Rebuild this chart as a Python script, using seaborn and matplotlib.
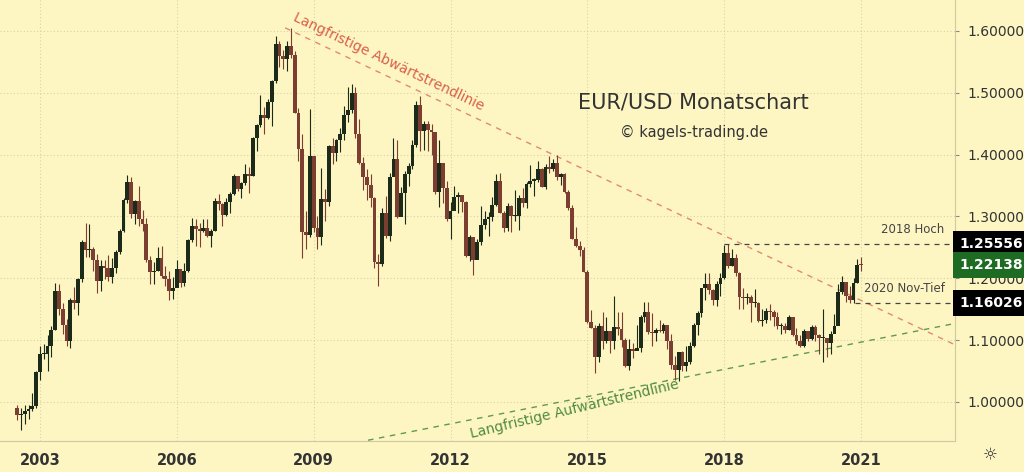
import numpy as np
import matplotlib
matplotlib.use("Agg")
import matplotlib.pyplot as plt
import seaborn as sns

# Monatskerzen EUR/USD, Jul 2002 bis Jan 2021
start_month = -6  # Monate relativ zu Jan 2003

closes = [
    0.978, 0.981, 0.986, 0.989, 0.993, 1.049,
    1.077, 1.078, 1.091, 1.117, 1.180, 1.150, 1.124, 1.099, 1.165, 1.160, 1.198, 1.259,
    1.246, 1.247, 1.230, 1.196, 1.220, 1.217, 1.202, 1.217, 1.242, 1.276, 1.327, 1.356,
    1.304, 1.325, 1.296, 1.287, 1.230, 1.210, 1.212, 1.233, 1.204, 1.198, 1.179, 1.184,
    1.215, 1.193, 1.212, 1.262, 1.285, 1.279, 1.277, 1.281, 1.268, 1.276, 1.325, 1.320,
    1.302, 1.323, 1.336, 1.365, 1.345, 1.354, 1.368, 1.366, 1.426, 1.448, 1.464, 1.459,
    1.485, 1.519, 1.579, 1.559, 1.554, 1.575, 1.561, 1.467, 1.409, 1.274, 1.270, 1.397,
    1.281, 1.267, 1.328, 1.323, 1.414, 1.403, 1.424, 1.434, 1.464, 1.472, 1.500, 1.433,
    1.386, 1.363, 1.351, 1.330, 1.227, 1.223, 1.305, 1.268, 1.363, 1.393, 1.299, 1.338,
    1.369, 1.381, 1.416, 1.480, 1.438, 1.450, 1.439, 1.437, 1.340, 1.386, 1.346, 1.296,
    1.308, 1.332, 1.334, 1.324, 1.236, 1.266, 1.230, 1.258, 1.286, 1.296, 1.299, 1.319,
    1.358, 1.306, 1.282, 1.317, 1.300, 1.301, 1.330, 1.322, 1.352, 1.358, 1.359, 1.376,
    1.348, 1.380, 1.377, 1.387, 1.363, 1.369, 1.339, 1.313, 1.263, 1.252, 1.245, 1.210,
    1.129, 1.120, 1.073, 1.122, 1.099, 1.114, 1.098, 1.121, 1.118, 1.100, 1.058, 1.086,
    1.083, 1.087, 1.138, 1.145, 1.113, 1.111, 1.117, 1.115, 1.124, 1.098, 1.059, 1.052,
    1.080, 1.058, 1.065, 1.090, 1.124, 1.143, 1.184, 1.191, 1.181, 1.165, 1.190, 1.201,
    1.241, 1.219, 1.232, 1.208, 1.169, 1.168, 1.169, 1.160, 1.160, 1.131, 1.132, 1.147,
    1.145, 1.137, 1.122, 1.122, 1.117, 1.137, 1.108, 1.099, 1.090, 1.115, 1.102, 1.121,
    1.109, 1.103, 1.103, 1.095, 1.110, 1.123, 1.178, 1.194, 1.172, 1.165, 1.193, 1.222,
    1.2214,
]

highs = [
    0.995, 0.990, 0.995, 0.995, 1.015, 1.050,
    1.090, 1.093, 1.108, 1.123, 1.193, 1.190, 1.160, 1.134, 1.168, 1.186, 1.200, 1.262,
    1.290, 1.287, 1.250, 1.240, 1.229, 1.229, 1.238, 1.233, 1.245, 1.280, 1.330, 1.367,
    1.363, 1.326, 1.349, 1.311, 1.297, 1.236, 1.226, 1.250, 1.252, 1.220, 1.211, 1.202,
    1.229, 1.215, 1.225, 1.263, 1.297, 1.296, 1.289, 1.295, 1.295, 1.280, 1.329, 1.337,
    1.322, 1.330, 1.340, 1.368, 1.361, 1.356, 1.384, 1.380, 1.428, 1.450, 1.497, 1.477,
    1.490, 1.520, 1.591, 1.584, 1.569, 1.584, 1.604, 1.567, 1.476, 1.433, 1.308, 1.474,
    1.398, 1.300, 1.378, 1.345, 1.415, 1.426, 1.425, 1.443, 1.478, 1.509, 1.514, 1.510,
    1.458, 1.396, 1.376, 1.369, 1.331, 1.240, 1.313, 1.333, 1.370, 1.426, 1.424, 1.347,
    1.374, 1.386, 1.424, 1.486, 1.494, 1.454, 1.455, 1.450, 1.437, 1.423, 1.364, 1.358,
    1.323, 1.349, 1.339, 1.332, 1.325, 1.270, 1.240, 1.264, 1.317, 1.309, 1.307, 1.331,
    1.368, 1.371, 1.309, 1.321, 1.318, 1.342, 1.335, 1.346, 1.356, 1.383, 1.362, 1.389,
    1.379, 1.385, 1.397, 1.393, 1.399, 1.370, 1.370, 1.343, 1.318, 1.283, 1.260, 1.250,
    1.214, 1.149, 1.125, 1.128, 1.146, 1.138, 1.112, 1.171, 1.145, 1.146, 1.103, 1.102,
    1.095, 1.124, 1.140, 1.162, 1.161, 1.143, 1.120, 1.133, 1.128, 1.124, 1.110, 1.074,
    1.080, 1.083, 1.091, 1.097, 1.127, 1.147, 1.184, 1.208, 1.209, 1.183, 1.196, 1.209,
    1.254, 1.255, 1.247, 1.240, 1.210, 1.185, 1.176, 1.173, 1.182, 1.162, 1.150, 1.152,
    1.158, 1.149, 1.145, 1.127, 1.127, 1.141, 1.129, 1.120, 1.109, 1.118, 1.109, 1.124,
    1.124, 1.110, 1.150, 1.102, 1.115, 1.142, 1.191, 1.203, 1.188, 1.188, 1.200, 1.231,
    1.235,
]

lows = [
    0.970, 0.955, 0.965, 0.973, 0.985, 0.990,
    1.036, 1.070, 1.050, 1.073, 1.116, 1.140, 1.110, 1.090, 1.087, 1.150, 1.140, 1.194,
    1.235, 1.235, 1.212, 1.176, 1.180, 1.199, 1.196, 1.193, 1.209, 1.240, 1.275, 1.321,
    1.297, 1.287, 1.284, 1.277, 1.227, 1.190, 1.190, 1.212, 1.200, 1.187, 1.164, 1.167,
    1.195, 1.186, 1.188, 1.210, 1.259, 1.252, 1.250, 1.274, 1.267, 1.250, 1.277, 1.311,
    1.285, 1.300, 1.306, 1.334, 1.341, 1.330, 1.351, 1.338, 1.365, 1.406, 1.445, 1.434,
    1.458, 1.447, 1.516, 1.541, 1.538, 1.535, 1.556, 1.467, 1.389, 1.233, 1.248, 1.266,
    1.275, 1.247, 1.253, 1.293, 1.317, 1.385, 1.390, 1.404, 1.423, 1.452, 1.467, 1.426,
    1.385, 1.343, 1.326, 1.316, 1.217, 1.188, 1.220, 1.265, 1.260, 1.369, 1.297, 1.303,
    1.287, 1.349, 1.376, 1.413, 1.405, 1.408, 1.405, 1.400, 1.336, 1.316, 1.321, 1.293,
    1.263, 1.310, 1.306, 1.307, 1.235, 1.228, 1.205, 1.237, 1.254, 1.280, 1.269, 1.293,
    1.317, 1.305, 1.275, 1.277, 1.274, 1.293, 1.278, 1.315, 1.313, 1.348, 1.333, 1.356,
    1.347, 1.344, 1.371, 1.373, 1.359, 1.350, 1.338, 1.310, 1.264, 1.250, 1.236, 1.210,
    1.128, 1.120, 1.046, 1.065, 1.086, 1.095, 1.079, 1.086, 1.108, 1.089, 1.056, 1.052,
    1.071, 1.084, 1.081, 1.130, 1.110, 1.091, 1.098, 1.113, 1.112, 1.085, 1.053, 1.035,
    1.034, 1.050, 1.050, 1.062, 1.089, 1.109, 1.138, 1.165, 1.174, 1.157, 1.155, 1.172,
    1.199, 1.216, 1.219, 1.204, 1.151, 1.151, 1.159, 1.130, 1.153, 1.130, 1.122, 1.127,
    1.133, 1.123, 1.118, 1.110, 1.111, 1.116, 1.106, 1.093, 1.088, 1.088, 1.098, 1.100,
    1.099, 1.078, 1.064, 1.073, 1.077, 1.112, 1.124, 1.175, 1.161, 1.160, 1.160, 1.192,
    1.212,
]

first_open = 0.990
year_ticks = [0, 36, 72, 108, 144, 180, 216]
year_labels = ["2003", "2006", "2009", "2012", "2015", "2018", "2021"]
price_ticks = [1.0, 1.1, 1.2, 1.3, 1.4, 1.5, 1.6]

hoch_2018 = 1.25556
tief_2020 = 1.16026
last_price = 1.22138

sns.set_style("whitegrid")
plt.rcParams['font.family'] = ['DejaVu Sans']

bg = "#fdf6c3"
up_col = "#1c2a1a"
down_col = "#7b3e30"

fig = plt.figure(figsize=(10.24, 4.72), dpi=100, facecolor=bg)
ax = fig.add_axes([0, 0.066, 0.933, 0.934], facecolor=bg)

closes = np.array(closes)
opens = np.concatenate([[first_open], closes[:-1]])
months = np.arange(len(closes)) + start_month
up = closes >= opens
cols = np.where(up, up_col, down_col)

ax.vlines(months, lows, highs, color=cols, linewidth=0.8, zorder=3)
ax.bar(months, np.maximum(np.abs(closes - opens), 0.002), bottom=np.minimum(opens, closes),
       width=1.0, color=cols, zorder=4, linewidth=0)

ax.set_xlim(-10.5, 240.8)
ax.set_ylim(0.937, 1.650)

# Trendlinien
ax.plot([64.5, 240.8], [1.605, 1.092], ls=(0, (4, 4)), color="#e08a70", lw=1, zorder=2)
ax.plot([86.3, 240.8], [0.938, 1.127], ls=(0, (4, 4)), color="#5f9a4e", lw=1, zorder=2)
ax.text(66, 1.612, "Langfristige Abwärtstrendlinie", color="#d9604a", fontsize=10,
        rotation=-25.5, rotation_mode="anchor", ha="left", va="bottom")
ax.text(140.5, 0.988, "Langfristige Aufwärtstrendlinie", color="#4f8a3c", fontsize=10,
        rotation=13.5, rotation_mode="anchor", ha="center", va="center")

# Hoch / Tief
ax.plot([180, 240.8], [hoch_2018, hoch_2018], ls=(0, (4, 4)), color="#444444", lw=0.9)
ax.plot([214.5, 240.8], [tief_2020, tief_2020], ls=(0, (4, 4)), color="#444444", lw=0.9)
ax.text(238, hoch_2018 + 0.012, "2018 Hoch", ha="right", va="bottom", fontsize=8.5, color="#444444")
ax.text(238, tief_2020 + 0.012, "2020 Nov-Tief", ha="right", va="bottom", fontsize=8.5, color="#444444")

ax.text(172, 1.485, "EUR/USD Monatschart", fontsize=15, color="#333333", ha="center", va="center")
ax.text(172, 1.435, "© kagels-trading.de", fontsize=10.5, color="#333333", ha="center", va="center")

ax.set_xticks(year_ticks)
ax.set_xticklabels(year_labels, fontsize=10.5, fontweight="bold", color="#333333")
ax.set_yticks(price_ticks)
ax.set_yticklabels([f"{v:.5f}" for v in price_ticks], fontsize=10, color="#333333")
ax.yaxis.tick_right()
ax.tick_params(axis="both", length=3, color="#888888", pad=6)
ax.grid(True, color="#d8d2a8", linestyle=(0, (1, 2)), linewidth=0.8)
for s in ax.spines.values():
    s.set_visible(False)
ax.spines["right"].set_visible(True)
ax.spines["right"].set_color("#cfc9a0")
ax.spines["bottom"].set_visible(True)
ax.spines["bottom"].set_color("#cfc9a0")

for val, fc in [(hoch_2018, "#000000"), (last_price, "#1e6b24"), (tief_2020, "#000000")]:
    ax.text(1.004, val, f"{val:.5f}", transform=ax.get_yaxis_transform(), ha="left", va="center",
            fontsize=10, fontweight="bold", color="white",
            bbox=dict(boxstyle="square,pad=0.45", fc=fc, ec="none"), zorder=10, clip_on=False)

fig.text(0.967, 0.035, "☼", fontsize=12, color="#333333", ha="center", va="center")

fig.savefig("out.png", dpi=100, facecolor=bg)
